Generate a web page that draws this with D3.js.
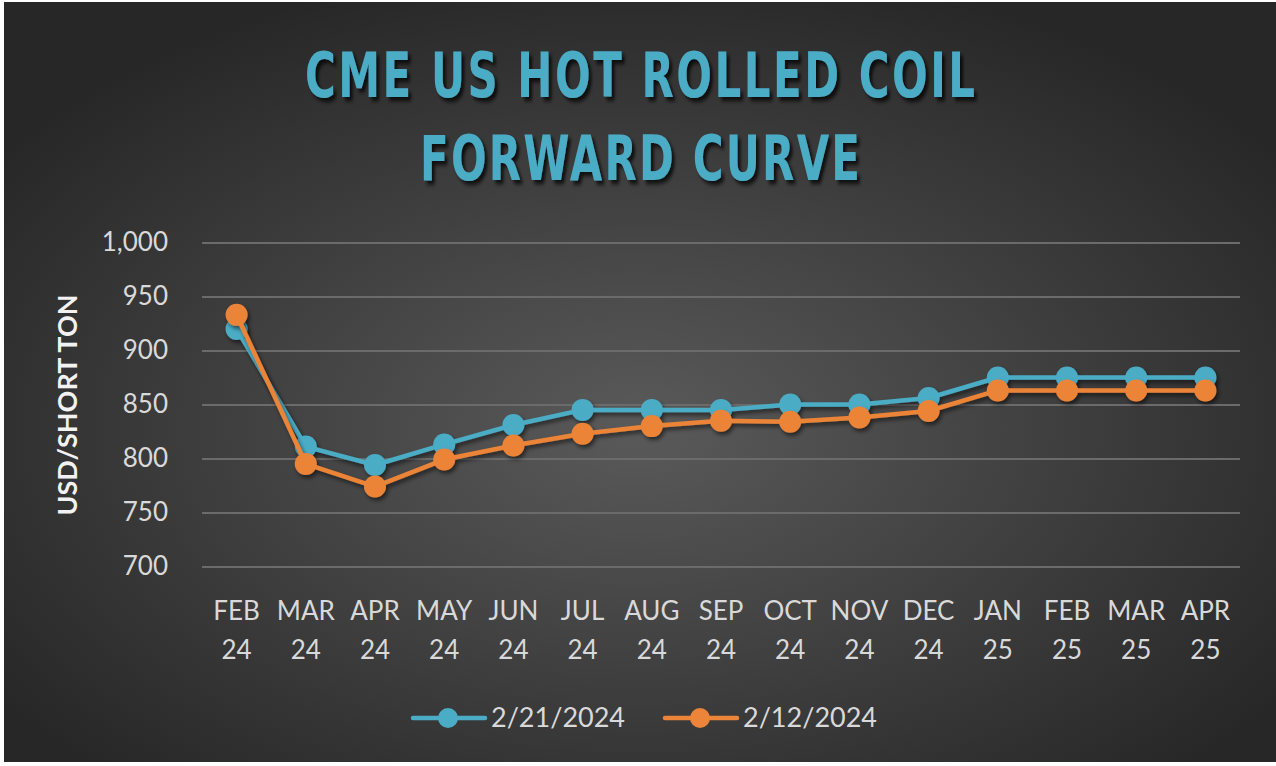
<!DOCTYPE html>
<html>
<head>
<meta charset="utf-8">
<script src="https://cdn.jsdelivr.net/npm/d3@7"></script>
<style>
  body { margin: 0; background: #ffffff; }
  svg { display: block; }
</style>
</head>
<body>
<div id="hrc-chart"></div>
<script>
// Chart data
const months = ["FEB 24", "MAR 24", "APR 24", "MAY 24", "JUN 24", "JUL 24", "AUG 24", "SEP 24",
  "OCT 24", "NOV 24", "DEC 24", "JAN 25", "FEB 25", "MAR 25", "APR 25"];
const curve0221 = [920, 811, 794, 813, 831, 845, 845, 845, 850, 850, 856, 875, 875, 875, 875];
const curve0212 = [933, 795, 774, 799, 812, 823, 830, 835, 834, 838, 844, 863, 863, 863, 863];
const yTicks = [700, 750, 800, 850, 900, 950, 1000];
const seriesNames = ["2/21/2024", "2/12/2024"];
const titleLines = ["CME US HOT ROLLED COIL", "FORWARD CURVE"];
const yTitle = "USD/SHORT TON";

const styles = {
  width: 1276,
  height: 766,
  plot: { left: 202, right: 1240, top: 242.5, bottom: 566.5 },
  colors: ["#4BACC6", "#EC8439"],
  grid: "#6b6b6b",
  tickText: "#d9d9d9",
  font: "Lato, 'Open Sans', sans-serif",
  titleFont: "'Liberation Sans Narrow', 'DejaVu Sans Condensed', 'DejaVu Sans', sans-serif",
};

const svg = d3.select("#hrc-chart")
  .append("svg")
  .attr("width", styles.width)
  .attr("height", styles.height);

const defs = svg.append("defs");

// dark radial background like the Excel chart style
const bg = defs.append("radialGradient")
  .attr("id", "bgGrad")
  .attr("cx", "50%").attr("cy", "56%").attr("r", "62%");
bg.append("stop").attr("offset", "0%").attr("stop-color", "#5a5a5a");
bg.append("stop").attr("offset", "100%").attr("stop-color", "#272727");

const shadow = defs.append("filter").attr("id", "shadow")
  .attr("x", "-20%").attr("y", "-20%").attr("width", "140%").attr("height", "140%");
shadow.append("feDropShadow")
  .attr("dx", 2).attr("dy", 3).attr("stdDeviation", 2)
  .attr("flood-color", "#000").attr("flood-opacity", 0.55);

const titleShadow = defs.append("filter").attr("id", "titleShadow")
  .attr("x", "-5%").attr("y", "-20%").attr("width", "110%").attr("height", "150%");
titleShadow.append("feDropShadow")
  .attr("dx", 4).attr("dy", 4).attr("stdDeviation", 2)
  .attr("flood-color", "#000").attr("flood-opacity", 0.75);

svg.append("rect")
  .attr("x", 4).attr("y", 2)
  .attr("width", styles.width - 4).attr("height", 760)
  .attr("fill", "url(#bgGrad)");

// Title - narrow glyphs, widely spaced
const titleY = [97, 180];
const titleW = [670, 440];
const squeeze = 0.74;
titleLines.forEach((t, i) => {
  svg.append("text")
    .attr("transform", `translate(640,${titleY[i]}) scale(${squeeze},1)`)
    .attr("text-anchor", "middle")
    .attr("textLength", titleW[i] / squeeze)
    .attr("lengthAdjust", "spacing")
    .style("font-family", styles.titleFont)
    .style("font-weight", "bold")
    .style("font-size", "63px")
    .style("fill", "#4BACC6")
    .attr("filter", "url(#titleShadow)")
    .text(t);
});

// Scales
const x = d3.scaleBand()
  .domain(months)
  .range([styles.plot.left, styles.plot.right])
  .padding(0);

const y = d3.scaleLinear()
  .domain([700, 1000])
  .range([styles.plot.bottom, styles.plot.top]);

// Gridlines + y tick labels
const yAxis = svg.append("g")
  .attr("transform", `translate(${styles.plot.left},0)`)
  .call(d3.axisLeft(y)
    .tickValues(yTicks)
    .tickSize(-(styles.plot.right - styles.plot.left))
    .tickPadding(34)
    .tickFormat(d3.format(",")));
yAxis.select(".domain").remove();
yAxis.selectAll(".tick line")
  .attr("stroke", styles.grid)
  .attr("stroke-width", 2);
yAxis.selectAll(".tick text")
  .style("font-family", styles.font)
  .style("font-size", "26px")
  .style("fill", styles.tickText);

// X labels, two lines each
const xAxis = svg.append("g")
  .attr("transform", `translate(0,${styles.plot.bottom})`)
  .call(d3.axisBottom(x).tickSize(0).tickFormat(""));
xAxis.select(".domain").remove();
xAxis.selectAll(".tick text").remove();
xAxis.selectAll(".tick").each(function (d) {
  const parts = d.split(" ");
  const t = d3.select(this).append("text")
    .attr("text-anchor", "middle")
    .style("font-family", styles.font)
    .style("font-size", "26px")
    .style("fill", styles.tickText);
  t.append("tspan").attr("x", 0).attr("y", 53).text(parts[0]);
  t.append("tspan").attr("x", 0).attr("y", 92).text(parts[1]);
});

// Y axis title
svg.append("text")
  .attr("transform", "translate(77,405) rotate(-90)")
  .attr("text-anchor", "middle")
  .style("font-family", styles.font)
  .style("font-weight", "bold")
  .style("font-size", "27px")
  .style("fill", "#f2f2f2")
  .text(yTitle);

// Series
const allSeries = [curve0221, curve0212];
const line = d3.line()
  .x((d, i) => x(months[i]) + x.bandwidth() / 2)
  .y(d => y(d));

allSeries.forEach((values, s) => {
  const g = svg.append("g").attr("filter", "url(#shadow)");
  g.append("path")
    .datum(values)
    .attr("d", line)
    .attr("fill", "none")
    .attr("stroke", styles.colors[s])
    .attr("stroke-width", 4.5)
    .attr("stroke-linejoin", "round");
  g.selectAll("circle")
    .data(values)
    .join("circle")
    .attr("cx", (d, i) => x(months[i]) + x.bandwidth() / 2)
    .attr("cy", d => y(d))
    .attr("r", 11)
    .attr("fill", styles.colors[s]);
});

// Legend
const legendX = [413, 665];
seriesNames.forEach((name, i) => {
  const lg = svg.append("g").attr("transform", `translate(${legendX[i]},718)`);
  lg.append("line")
    .attr("x1", 0).attr("x2", 72)
    .attr("stroke", styles.colors[i])
    .attr("stroke-width", 4.5)
    .attr("stroke-linecap", "round");
  lg.append("circle")
    .attr("cx", 35).attr("r", 10)
    .attr("fill", styles.colors[i]);
  lg.append("text")
    .attr("x", 78).attr("dy", "0.35em")
    .style("font-family", styles.font)
    .style("font-size", "27px")
    .style("fill", styles.tickText)
    .text(name);
});
</script>
</body>
</html>
